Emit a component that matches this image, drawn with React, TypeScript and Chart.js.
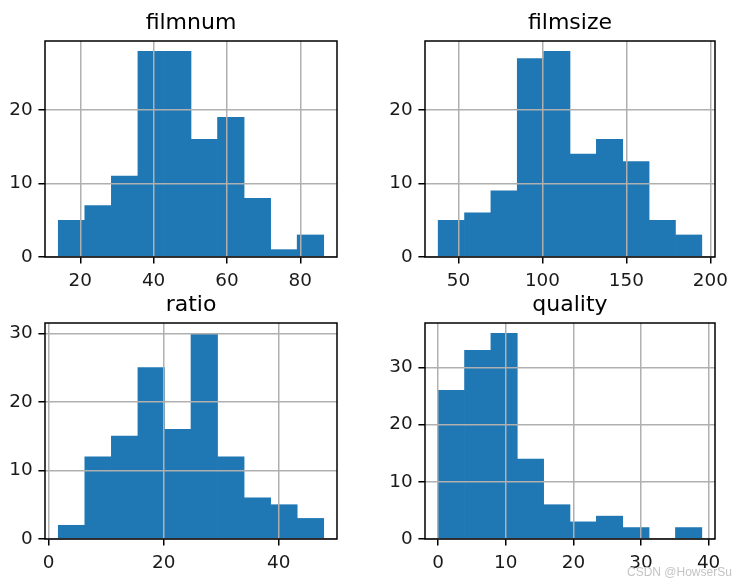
import React, { useEffect, useRef } from "react";
import { Chart, registerables } from "chart.js";

Chart.register(...registerables);

// ---- data ----
const filmnumCounts = [5, 7, 11, 28, 28, 16, 19, 8, 1, 3];
const filmnumRange = [14.0, 86.4];
const filmnumXTicks = [20, 40, 60, 80];
const filmnumYTicks = [0, 10, 20];

const filmsizeCounts = [5, 6, 9, 27, 28, 14, 16, 13, 5, 3];
const filmsizeRange = [37.9, 194.9];
const filmsizeXTicks = [50, 100, 150, 200];
const filmsizeYTicks = [0, 10, 20];

const ratioCounts = [2, 12, 15, 25, 16, 30, 12, 6, 5, 3];
const ratioRange = [1.7, 47.8];
const ratioXTicks = [0, 20, 40];
const ratioYTicks = [0, 10, 20, 30];

const qualityCounts = [26, 33, 36, 14, 6, 3, 4, 2, 0, 2];
const qualityRange = [0.0, 39.0];
const qualityXTicks = [0, 10, 20, 30, 40];
const qualityYTicks = [0, 10, 20, 30];

const panelTitles = ["filmnum", "filmsize", "ratio", "quality"];

// ---- layout ----
const YW = 45; // y-axis box width
const PT = 45; // top padding (title room)
const PR = 25; // right padding
const XH = 40; // x-axis box height

type Box = { l: number; t: number; r: number; b: number };

const boxes: Box[] = [
  { l: 45, t: 41, r: 337, b: 257 },
  { l: 425, t: 41, r: 715, b: 257 },
  { l: 45, t: 323, r: 337, b: 539 },
  { l: 425, t: 323, r: 715, b: 539 },
];

const FONT = "'DejaVu Sans', sans-serif";

function Panel(props: {
  title: string;
  counts: number[];
  range: number[];
  xTicks: number[];
  yTicks: number[];
  box: Box;
}) {
  const ref = useRef<HTMLCanvasElement | null>(null);
  const { title, counts, range, xTicks, yTicks, box } = props;
  const w = box.r - box.l + YW + PR;
  const h = box.b - box.t + PT + XH;

  useEffect(() => {
    if (!ref.current) return;
    const n = counts.length;
    const step = (range[1] - range[0]) / n;
    const data = counts.map((c, i) => ({ x: range[0] + step * (i + 0.5), y: c }));
    const margin = (range[1] - range[0]) * 0.05;
    const ymax = Math.max(...counts) * 1.05;

    const framePlugin = {
      id: "frameTitle",
      afterDraw(chart: any) {
        const { ctx, chartArea } = chart;
        ctx.save();
        ctx.strokeStyle = "#000";
        ctx.lineWidth = 1.5;
        ctx.strokeRect(chartArea.left, chartArea.top, chartArea.right - chartArea.left, chartArea.bottom - chartArea.top);
        ctx.fillStyle = "#000";
        ctx.font = `22px ${FONT}`;
        ctx.textAlign = "center";
        ctx.textBaseline = "alphabetic";
        ctx.fillText(title, (chartArea.left + chartArea.right) / 2, chartArea.top - 12.5);
        ctx.restore();
      },
    };

    const tickFont = { family: FONT, size: 18.4 };

    const chart = new Chart(ref.current, {
      type: "bar",
      data: {
        datasets: [
          {
            data: data as any,
            backgroundColor: "#1f77b4",
            borderWidth: 0,
            barPercentage: 1,
            categoryPercentage: 1,
          },
        ],
      },
      options: {
        animation: false,
        responsive: false,
        maintainAspectRatio: false,
        events: [],
        layout: { padding: { left: 0, top: PT, right: PR, bottom: 0 } },
        plugins: {
          legend: { display: false },
          tooltip: { enabled: false },
          title: { display: false },
        },
        scales: {
          x: {
            type: "linear",
            min: range[0] - margin,
            max: range[1] + margin,
            offset: false,
            bounds: "data",
            grid: {
              offset: false,
              z: 1,
              color: "#b0b0b0",
              lineWidth: 1.5,
              tickColor: "#000",
              tickLength: 6.6,
              tickWidth: 1.5,
            },
            border: { display: false },
            ticks: {
              font: tickFont,
              color: "#1a1a1a",
              padding: 6.6,
              maxRotation: 0,
              autoSkip: false,
            },
            afterBuildTicks: (s: any) => {
              s.ticks = xTicks.map((v) => ({ value: v }));
            },
            afterFit: (s: any) => {
              s.height = XH;
            },
          } as any,
          y: {
            type: "linear",
            min: 0,
            max: ymax,
            bounds: "data",
            grid: {
              z: 1,
              color: "#b0b0b0",
              lineWidth: 1.5,
              tickColor: "#000",
              tickLength: 6.6,
              tickWidth: 1.5,
            },
            border: { display: false },
            ticks: {
              font: tickFont,
              color: "#1a1a1a",
              padding: 5.7,
              autoSkip: false,
            },
            afterBuildTicks: (s: any) => {
              s.ticks = yTicks.map((v) => ({ value: v }));
            },
            afterFit: (s: any) => {
              s.width = YW;
            },
          } as any,
        },
      },
      plugins: [framePlugin],
    });
    return () => chart.destroy();
  }, []);

  return (
    <canvas
      ref={ref}
      width={w}
      height={h}
      style={{
        position: "absolute",
        left: box.l - YW,
        top: box.t - PT,
        width: w,
        height: h,
      }}
    />
  );
}

export default function App() {
  return (
    <div
      style={{
        position: "absolute",
        left: 0,
        top: 0,
        width: 743,
        height: 586,
        background: "#fff",
        overflow: "hidden",
      }}
    >
      <Panel title={panelTitles[0]} counts={filmnumCounts} range={filmnumRange} xTicks={filmnumXTicks} yTicks={filmnumYTicks} box={boxes[0]} />
      <Panel title={panelTitles[1]} counts={filmsizeCounts} range={filmsizeRange} xTicks={filmsizeXTicks} yTicks={filmsizeYTicks} box={boxes[1]} />
      <Panel title={panelTitles[2]} counts={ratioCounts} range={ratioRange} xTicks={ratioXTicks} yTicks={ratioYTicks} box={boxes[2]} />
      <Panel title={panelTitles[3]} counts={qualityCounts} range={qualityRange} xTicks={qualityXTicks} yTicks={qualityYTicks} box={boxes[3]} />
      <div
        style={{
          position: "absolute",
          left: 627,
          top: 565,
          fontFamily: "'Liberation Sans', sans-serif",
          fontSize: 12,
          color: "#c4c4c4",
          whiteSpace: "nowrap",
        }}
      >
        CSDN @HowserSu
      </div>
    </div>
  );
}
